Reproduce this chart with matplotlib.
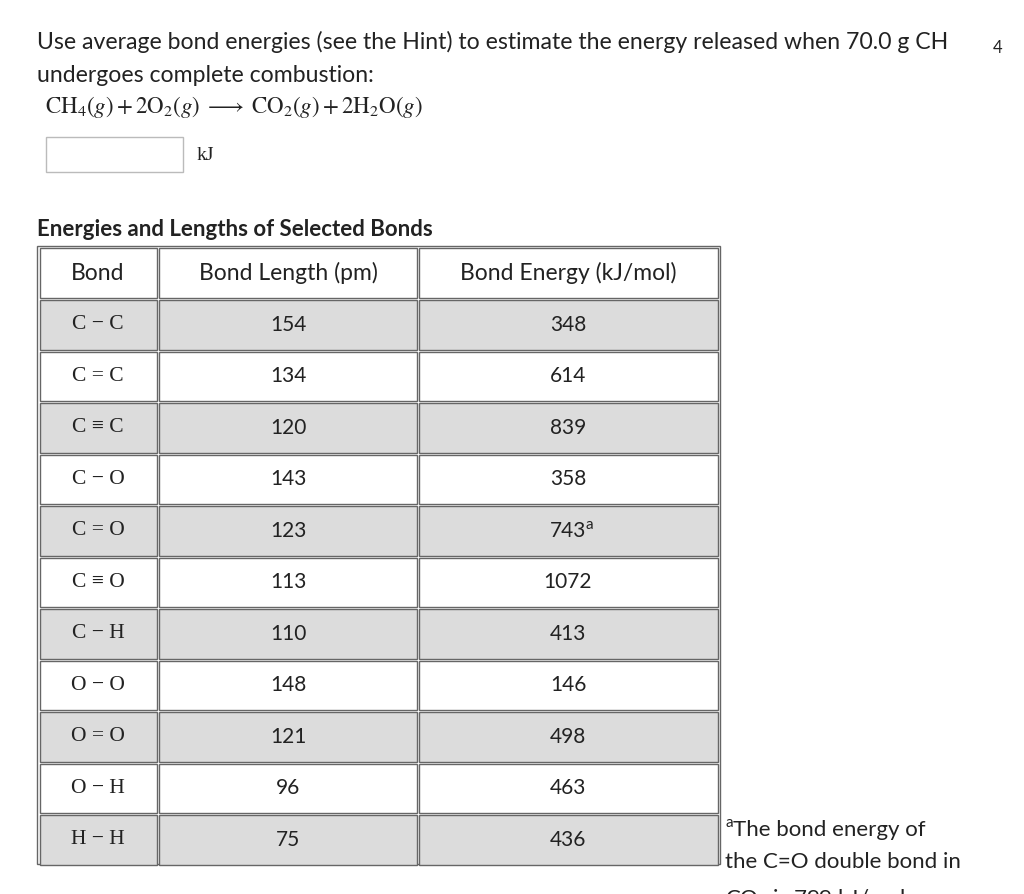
import matplotlib
matplotlib.use("Agg")
import matplotlib.pyplot as plt
from matplotlib.patches import Rectangle

plt.rcParams['mathtext.fontset'] = 'stix'

bonds = ["C − C", "C = C", "C ≡ C", "C − O", "C = O", "C ≡ O", "C − H", "O − O", "O = O", "O − H", "H − H"]
lengths = ["154", "134", "120", "143", "123", "113", "110", "148", "121", "96", "75"]
energies = ["348", "614", "839", "358", "743", "1072", "413", "146", "498", "463", "436"]
headers = ["Bond", "Bond Length (pm)", "Bond Energy (kJ/mol)"]

fig = plt.figure(figsize=(10.24, 8.94), dpi=100)
ax = fig.add_axes([0, 0, 1, 1])
ax.set_xlim(0, 1024)
ax.set_ylim(894, 0)
ax.axis('off')

sans = ['Lato', 'DejaVu Sans']
serif = ['Liberation Serif', 'DejaVu Serif']
tc = '#222222'

ax.text(37, 42, "Use average bond energies (see the Hint) to estimate the energy released when 70.0 g CH", fontsize=16.6, family=sans, color=tc, va='center')
ax.text(993, 48, "4", fontsize=12, family=sans, color=tc, va='center')
ax.text(37, 76, "undergoes complete combustion:", fontsize=16.6, family=sans, color=tc, va='center')
ax.text(45, 107, r'$\mathrm{CH_4}(g)+2\mathrm{O_2}(g)\;\longrightarrow\;\mathrm{CO_2}(g)+2\mathrm{H_2O}(g)$', fontsize=16.5, color=tc, va='center')
ax.add_patch(Rectangle((46, 137), 137, 35, fill=False, ec='#bbbbbb', lw=1))
ax.text(197, 155, "kJ", fontsize=14, family=serif, color=tc, va='center')
ax.text(37, 229, "Energies and Lengths of Selected Bonds", fontsize=16, family=sans, weight='bold', color=tc, va='center')

# table
ax.add_patch(Rectangle((37, 246), 683, 618, fill=False, ec='#666666', lw=1))
cols = [(40, 157), (159, 417), (419, 718)]
centers = [98, 288, 568]
rh = 51.5
y0 = 248
for j, (a, b) in enumerate(cols):
    ax.add_patch(Rectangle((a, y0), b - a, 50, fc='white', ec='#666666', lw=1))
    ax.text(centers[j], y0 + 25, headers[j], fontsize=16.5, family=sans, color=tc, ha='center', va='center')
for i in range(len(bonds)):
    top = 300 + i * rh
    fc = '#dcdcdc' if i % 2 == 0 else 'white'
    for (a, b) in cols:
        ax.add_patch(Rectangle((a, top), b - a, rh - 2, fc=fc, ec='#666666', lw=1))
    cy = top + (rh - 2) / 2
    ax.text(centers[0], cy, bonds[i], fontsize=15.5, family=serif, color=tc, ha='center', va='center')
    ax.text(centers[1], cy, lengths[i], fontsize=15, family=sans, color=tc, ha='center', va='center')
    ax.text(centers[2], cy, energies[i], fontsize=15, family=sans, color=tc, ha='center', va='center')
    if energies[i] == "743":
        ax.text(centers[2] + 17, cy - 6, "a", fontsize=11, family=sans, color=tc, ha='left', va='center')

ax.text(725, 823, "a", fontsize=11, family=sans, color=tc, va='center')
ax.text(733, 830, "The bond energy of", fontsize=16, family=sans, color=tc, va='center')
ax.text(725, 862, "the C=O double bond in", fontsize=16, family=sans, color=tc, va='center')
ax.text(725, 898, "CO$_2$ is 799 kJ/mol.", fontsize=16, family=sans, color=tc, va='center', clip_on=True)

fig.savefig("out.png", dpi=100, facecolor='white')
